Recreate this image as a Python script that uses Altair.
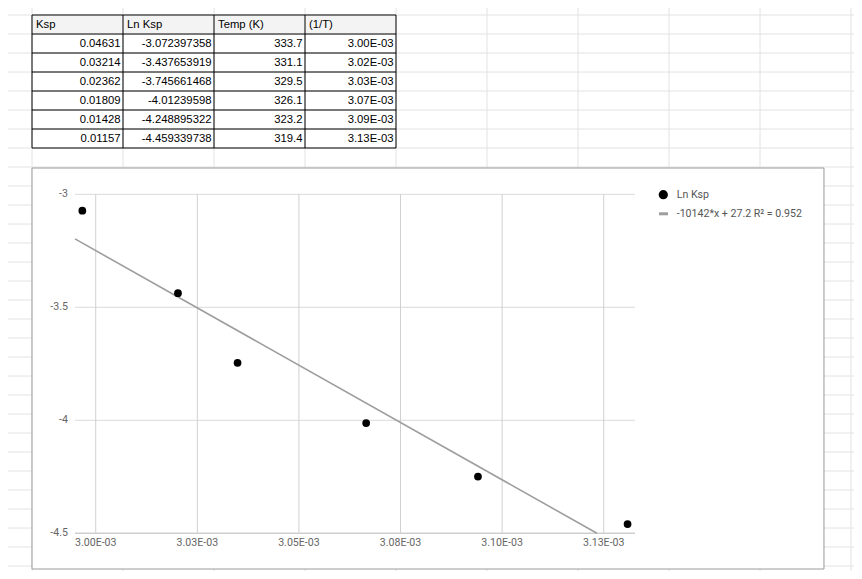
import altair as alt
import pandas as pd

# ---------------- data (read from the sheet / chart) ----------------
HEADERS = ["Ksp", "Ln Ksp", "Temp (K)", "(1/T)"]
KSP = [0.04631, 0.03214, 0.02362, 0.01809, 0.01428, 0.01157]
LN_KSP = [-3.072397358, -3.437653919, -3.745661468, -4.01239598, -4.248895322, -4.459339738]
TEMP_K = [333.7, 331.1, 329.5, 326.1, 323.2, 319.4]
INV_T = [0.00299670363, 0.00302023558, 0.00303490137, 0.00306654400, 0.00309405941, 0.00313087038]
INV_T_TEXT = ["3.00E-03", "3.02E-03", "3.03E-03", "3.07E-03", "3.09E-03", "3.13E-03"]

X_TICKS = [0.003, 0.003025, 0.00305, 0.003075, 0.0031, 0.003125]
X_TICK_LABELS = ["3.00E-03", "3.03E-03", "3.05E-03", "3.08E-03", "3.10E-03", "3.13E-03"]
Y_TICKS = [-3.0, -3.5, -4.0, -4.5]
Y_TICK_LABELS = ["-3", "-3.5", "-4", "-4.5"]

SERIES_NAME = "Ln Ksp"
TREND_LABEL = "-10142*x + 27.2 R² = 0.952"

SHEET_COL_LINES = list(range(10))
SHEET_ROW_LINES = list(range(31))

# ---------------- layout / style ----------------
X_MIN, X_MAX = 0.0029949, 0.0031327
Y_MIN, Y_MAX = -4.5, -3.0
TABLE_FONT = "Liberation Sans"
CHART_FONT = "Roboto"
GRID_SHEET = "#e2e2e2"

# sheet (cell-index) scales
SX = alt.Scale(domain=[0, 9], range=[24, 843], zero=False, nice=False)
SY = alt.Scale(domain=[0, 29], range=[7, 558], zero=False, nice=False)
# plot scales
PX = alt.Scale(domain=[X_MIN, X_MAX], range=[67, 627], zero=False, nice=False)
PY = alt.Scale(domain=[Y_MIN, Y_MAX], range=[525.3, 186.3], zero=False, nice=False)

one = pd.DataFrame({"k": [0]})

# ---------------- spreadsheet layer ----------------
col_lines = alt.Chart(pd.DataFrame({"c": SHEET_COL_LINES})).mark_rule(
    color=GRID_SHEET, strokeWidth=1
).encode(
    x=alt.X("c:Q", scale=SX, axis=None),
    y=alt.YDatum(-1, type="quantitative", scale=SY, axis=None),
    y2=alt.Y2Datum(31),
)
row_lines = alt.Chart(pd.DataFrame({"r": SHEET_ROW_LINES})).mark_rule(
    color=GRID_SHEET, strokeWidth=1
).encode(
    y=alt.Y("r:Q", scale=SY, axis=None),
    x=alt.XDatum(-1, type="quantitative", scale=SX, axis=None),
    x2=alt.X2Datum(10),
)

n_cols = len(HEADERS)
n_rows = len(KSP) + 1

header_bg = alt.Chart(one).mark_rect(color="#f3f3f3").encode(
    x=alt.XDatum(0, type="quantitative", scale=SX, axis=None),
    x2=alt.X2Datum(n_cols),
    y=alt.YDatum(0, type="quantitative", scale=SY, axis=None),
    y2=alt.Y2Datum(1),
)

header_df = pd.DataFrame({"c": list(range(n_cols)), "r": [0.5] * n_cols, "t": HEADERS})
header_text = alt.Chart(header_df).mark_text(
    align="left", baseline="middle", dx=4, font=TABLE_FONT, fontSize=11.3, color="#000"
).encode(
    x=alt.X("c:Q", scale=SX, axis=None),
    y=alt.Y("r:Q", scale=SY, axis=None),
    text="t:N",
)

cells = []
for i in range(len(KSP)):
    vals = [str(KSP[i]), str(LN_KSP[i]), str(TEMP_K[i]), INV_T_TEXT[i]]
    for c, v in enumerate(vals):
        cells.append({"c": c + 1, "r": i + 1.5, "t": v})
body_text = alt.Chart(pd.DataFrame(cells)).mark_text(
    align="right", baseline="middle", dx=-2.5, font=TABLE_FONT, fontSize=11.3, color="#000"
).encode(
    x=alt.X("c:Q", scale=SX, axis=None),
    y=alt.Y("r:Q", scale=SY, axis=None),
    text="t:N",
)

tbl_v = alt.Chart(pd.DataFrame({"c": list(range(n_cols + 1))})).mark_rule(
    color="#000", strokeWidth=1
).encode(
    x=alt.X("c:Q", scale=SX, axis=None),
    y=alt.YDatum(0, type="quantitative", scale=SY, axis=None),
    y2=alt.Y2Datum(n_rows),
)
tbl_h = alt.Chart(pd.DataFrame({"r": list(range(n_rows + 1))})).mark_rule(
    color="#000", strokeWidth=1
).encode(
    y=alt.Y("r:Q", scale=SY, axis=None),
    x=alt.XDatum(0, type="quantitative", scale=SX, axis=None),
    x2=alt.X2Datum(n_cols),
)

chart_box = alt.Chart(one).mark_rect(fill="white", stroke="#9a9a9a", strokeWidth=1).encode(
    x=alt.XDatum(0, type="quantitative", scale=SX, axis=None),
    x2=alt.X2Datum(8.703),
    y=alt.YDatum(8.053, type="quantitative", scale=SY, axis=None),
    y2=alt.Y2Datum(29.158),
)

sheet = alt.layer(col_lines, row_lines, header_bg, header_text, body_text, tbl_v, tbl_h, chart_box)

# ---------------- chart layer ----------------
df = pd.DataFrame({"inv_t": INV_T, "ln_ksp": LN_KSP})

ygrid_df = pd.DataFrame({"v": Y_TICKS, "lab": Y_TICK_LABELS})
xgrid_df = pd.DataFrame({"v": X_TICKS, "lab": X_TICK_LABELS})

hgrid = alt.Chart(ygrid_df).transform_filter(f"datum.v > {Y_MIN}").mark_rule(
    color="#dadada", strokeWidth=1
).encode(
    y=alt.Y("v:Q", scale=PY, axis=None),
    x=alt.XDatum(X_MIN, type="quantitative", scale=PX, axis=None),
    x2=alt.X2Datum(X_MAX),
)
vgrid = alt.Chart(xgrid_df).mark_rule(color="#d0d0d0", strokeWidth=1).encode(
    x=alt.X("v:Q", scale=PX, axis=None),
    y=alt.YDatum(Y_MIN, type="quantitative", scale=PY, axis=None),
    y2=alt.Y2Datum(Y_MAX),
)
baseline = alt.Chart(ygrid_df).transform_filter(f"datum.v <= {Y_MIN}").mark_rule(
    color="#cfcfcf", strokeWidth=1.6
).encode(
    y=alt.Y("v:Q", scale=PY, axis=None),
    x=alt.XDatum(X_MIN, type="quantitative", scale=PX, axis=None),
    x2=alt.X2Datum(X_MAX),
)
xlabels = alt.Chart(xgrid_df).mark_text(
    baseline="top", dy=5, font=CHART_FONT, fontSize=10.6, color="#666"
).encode(
    x=alt.X("v:Q", scale=PX, axis=None),
    y=alt.YDatum(Y_MIN, type="quantitative", scale=PY, axis=None),
    text="lab:N",
)
ylabels = alt.Chart(ygrid_df).mark_text(
    align="right", baseline="middle", dx=-7, font=CHART_FONT, fontSize=10.6, color="#666"
).encode(
    y=alt.Y("v:Q", scale=PY, axis=None),
    x=alt.XDatum(X_MIN, type="quantitative", scale=PX, axis=None),
    text="lab:N",
)

points = alt.Chart(df).mark_circle(size=60, color="#000", opacity=1).encode(
    x=alt.X("inv_t:Q", scale=PX, axis=None),
    y=alt.Y("ln_ksp:Q", scale=PY, axis=None),
)

trend = (
    alt.Chart(df)
    .transform_regression("inv_t", "ln_ksp", params=True)
    .transform_calculate(x0=f"{X_MIN}")
    .transform_calculate(y0=f"datum.coef[0] + datum.coef[1] * {X_MIN}")
    .transform_calculate(x1=f"min({X_MAX}, ({Y_MIN} - datum.coef[0]) / datum.coef[1])")
    .transform_calculate(y1="datum.coef[0] + datum.coef[1] * datum.x1")
    .mark_rule(color="#9e9e9e", strokeWidth=1.6)
    .encode(
        x=alt.X("x0:Q", scale=PX, axis=None),
        y=alt.Y("y0:Q", scale=PY, axis=None),
        x2="x1:Q",
        y2="y1:Q",
    )
)

leg_pt = alt.Chart(one).mark_circle(size=85, color="#000", opacity=1).encode(
    x=alt.value(655.3), y=alt.value(186.7)
)
leg_pt_txt = alt.Chart(pd.DataFrame({"t": [SERIES_NAME]})).mark_text(
    align="left", baseline="middle", font=CHART_FONT, fontSize=10.6, color="#555"
).encode(x=alt.value(668.7), y=alt.value(186.7), text="t:N")
leg_ln = alt.Chart(one).mark_rule(color="#9e9e9e", strokeWidth=3).encode(
    x=alt.value(651), x2=alt.value(660), y=alt.value(205.8)
)
leg_ln_txt = alt.Chart(pd.DataFrame({"t": [TREND_LABEL]})).mark_text(
    align="left", baseline="middle", font=CHART_FONT, fontSize=10.6, color="#555"
).encode(x=alt.value(668.7), y=alt.value(205.8), text="t:N")

plot = alt.layer(hgrid, vgrid, baseline, xlabels, ylabels, trend, points,
                 leg_pt, leg_pt_txt, leg_ln, leg_ln_txt)

chart = (
    alt.layer(sheet, plot)
    .resolve_scale(x="independent", y="independent")
    .properties(width=846, height=563, autosize=alt.AutoSizeParams(type="none"), padding=0,
                background="white")
    .configure_view(stroke=None)
)

chart.save("out.html", embed_options={"renderer": "svg", "actions": False})
